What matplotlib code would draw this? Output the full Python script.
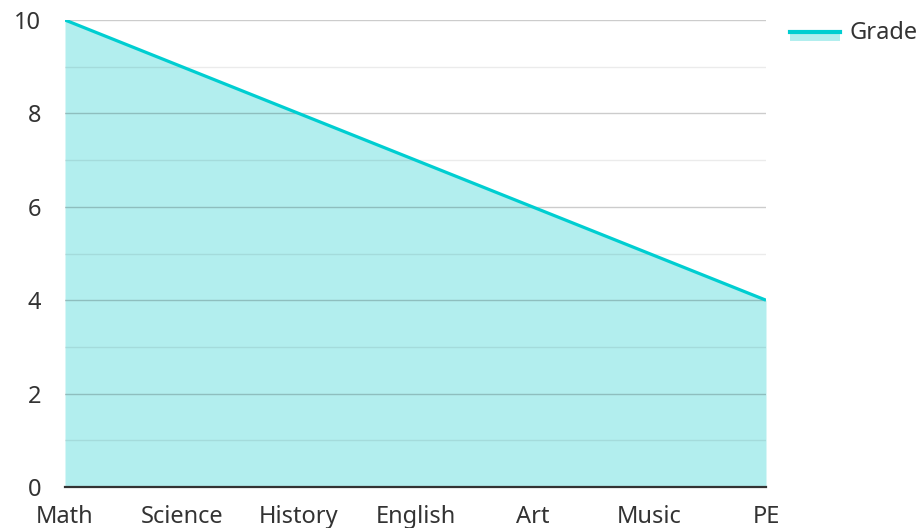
import matplotlib
matplotlib.use('Agg')
import matplotlib.pyplot as plt
from matplotlib.legend_handler import HandlerBase
from matplotlib.patches import Rectangle
from matplotlib.lines import Line2D

plt.rcParams['font.family'] = ['Noto Sans', 'DejaVu Sans']

subjects = ['Math', 'Science', 'History', 'English', 'Art', 'Music', 'PE']
grades = [10, 9, 8, 7, 6, 5, 4]

line_col = '#00ced1'
fill_col = '#b2eeee'
text_col = '#333333'


class AreaHandler(HandlerBase):
    def create_artists(self, legend, orig, xd, yd, w, h, fontsize, trans):
        r = Rectangle((xd, yd - h * 0.1), w, h * 0.55, fc=fill_col, ec='none', transform=trans)
        l = Line2D([xd, xd + w], [yd + h * 0.45] * 2, color=line_col, lw=3, transform=trans)
        return [r, l]


fig = plt.figure(figsize=(9.23, 5.28), dpi=100)
ax = fig.add_axes([65 / 923, 1 - 487 / 528, (766 - 65) / 923, (487 - 20) / 528])

xs = range(len(subjects))
ax.fill_between(xs, 0, grades, color=fill_col, lw=0, zorder=1)
ax.plot(xs, grades, color=line_col, lw=2.3, zorder=3, solid_capstyle='butt')

for v in range(0, 11):
    if v % 2 == 0:
        ax.axhline(v, color='black', alpha=0.2, lw=1, zorder=2)
    else:
        ax.axhline(v, color='black', alpha=0.08, lw=1, zorder=2)

ax.set_xlim(0, len(subjects) - 1)
ax.set_ylim(0, 10)
ax.set_xticks(list(xs))
ax.set_xticklabels(subjects)
ax.set_yticks(range(0, 11, 2))
ax.tick_params(axis='both', length=0, labelsize=17, colors=text_col)
ax.tick_params(axis='y', pad=17)
ax.tick_params(axis='x', pad=13)
for s in ['top', 'right', 'left']:
    ax.spines[s].set_visible(False)
ax.spines['bottom'].set_color(text_col)
ax.spines['bottom'].set_linewidth(1.6)
ax.spines['bottom'].set_zorder(4)

fig.legend(handles=[Rectangle((0, 0), 1, 1)], labels=['Grade'],
           handler_map={Rectangle: AreaHandler()},
           loc='upper left', bbox_to_anchor=(790 / 923, 1 - 21 / 528),
           frameon=False, fontsize=17, labelcolor=text_col,
           handlelength=2.1, handletextpad=0.42, borderaxespad=0,
           borderpad=0)

fig.savefig('out.png', dpi=100)
